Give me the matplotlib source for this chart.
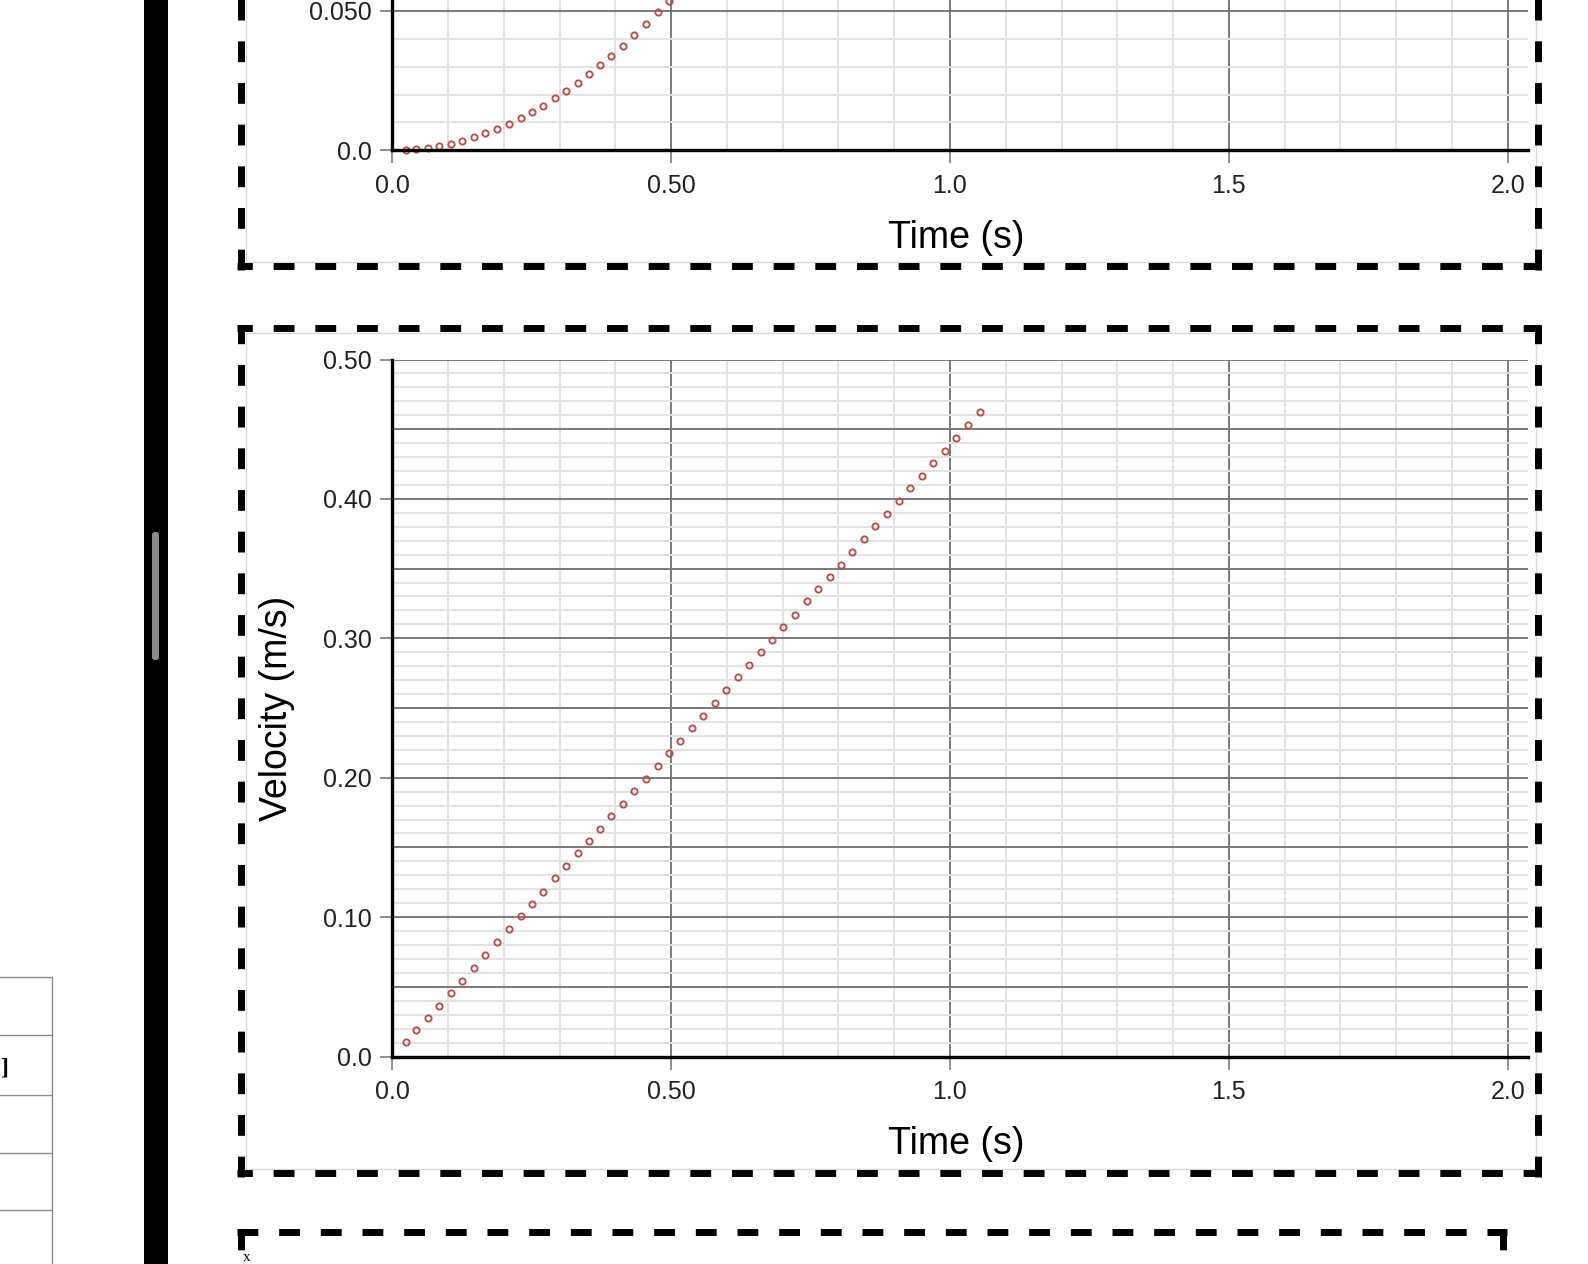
import matplotlib.pyplot as plt
import numpy as np
from matplotlib.lines import Line2D
from matplotlib.patches import Rectangle, FancyBboxPatch
from matplotlib.ticker import FixedLocator, FixedFormatter, MultipleLocator

# Values
time_s = [0.025, 0.043, 0.064, 0.084, 0.105, 0.125, 0.146, 0.167, 0.188, 0.209,
          0.230, 0.250, 0.270, 0.292, 0.312, 0.333, 0.353, 0.372, 0.392, 0.413,
          0.433, 0.455, 0.476, 0.496, 0.516, 0.537, 0.558, 0.579, 0.599, 0.620,
          0.640, 0.661, 0.681, 0.701, 0.722, 0.743, 0.764, 0.784, 0.805, 0.825,
          0.846, 0.866, 0.887, 0.908, 0.929, 0.949, 0.970, 0.991, 1.011, 1.032, 1.053]

velocity = [0.0102, 0.0188, 0.0279, 0.0365, 0.0458, 0.0545, 0.0638, 0.0731, 0.0823, 0.0914,
            0.1007, 0.1093, 0.1182, 0.1280, 0.1366, 0.1457, 0.1548, 0.1634, 0.1724, 0.1814,
            0.1902, 0.1994, 0.2085, 0.2175, 0.2264, 0.2355, 0.2446, 0.2537, 0.2628, 0.2719,
            0.2805, 0.2899, 0.2990, 0.3078, 0.3170, 0.3265, 0.3351, 0.3438, 0.3529, 0.3619,
            0.3711, 0.3804, 0.3890, 0.3984, 0.4075, 0.4165, 0.4256, 0.4343, 0.4434, 0.4527, 0.4621]

# only the part of the position chart that is visible
position = [0.0000, 0.0004, 0.0009, 0.0015, 0.0024, 0.0034, 0.0048, 0.0061, 0.0077, 0.0095,
            0.0116, 0.0136, 0.0159, 0.0187, 0.0213, 0.0242, 0.0273, 0.0305, 0.0339, 0.0375,
            0.0412, 0.0453, 0.0496, 0.0536]

x_ticks = [0.0, 0.5, 1.0, 1.5, 2.0]
x_tick_labels = ["0.0", "0.50", "1.0", "1.5", "2.0"]
pos_ticks = [0.0, 0.05]
pos_tick_labels = ["0.0", "0.050"]
vel_ticks = [0.0, 0.1, 0.2, 0.3, 0.4, 0.5]
vel_tick_labels = ["0.0", "0.10", "0.20", "0.30", "0.40", "0.50"]

plt.rcParams['font.family'] = ['Liberation Sans', 'DejaVu Sans']

W, H = 1588, 1264
DARK = '#707070'
LIGHT = '#e2e2e2'
DOT = '#b4514d'


def rect(x0, y0, x1, y1):
    # pixel box (top-left origin) -> figure fraction rect
    return [x0 / W, 1 - y1 / H, (x1 - x0) / W, (y1 - y0) / H]


fig = plt.figure(figsize=(W / 100, H / 100), dpi=100)


def setup(ax, y_max, y_ticks, y_labels, extra_dark):
    ax.set_xlim(0, 2.0364)
    ax.set_ylim(0, y_max)
    for s in ['top', 'right']:
        ax.spines[s].set_visible(False)
    for s in ['left', 'bottom']:
        ax.spines[s].set_linewidth(2.4)
        ax.spines[s].set_color('black')
        ax.spines[s].set_zorder(4)
    ax.xaxis.set_major_locator(FixedLocator(x_ticks))
    ax.xaxis.set_major_formatter(FixedFormatter(x_tick_labels))
    ax.xaxis.set_minor_locator(MultipleLocator(0.1))
    ax.yaxis.set_major_locator(FixedLocator(y_ticks))
    ax.yaxis.set_major_formatter(FixedFormatter(y_labels))
    ax.yaxis.set_minor_locator(MultipleLocator(0.01))
    ax.tick_params(which='major', length=9, width=1.1, color=DARK,
                   labelsize=18, labelcolor='#222222')
    ax.tick_params(axis='x', which='major', pad=8)
    ax.tick_params(axis='y', which='major', pad=6)
    ax.tick_params(which='minor', length=0)
    ax.set_axisbelow(True)
    ax.grid(which='minor', color=LIGHT, lw=1.4)
    ax.grid(which='major', color=DARK, lw=1.3)
    for yv in extra_dark:
        ax.axhline(yv, color=DARK, lw=1.3, zorder=1)
    ax.set_xlabel("Time (s)", fontsize=27, color='black')
    ax.xaxis.set_label_coords(0.4965, -88 / 697)
    ax.xaxis.label.set_verticalalignment('center')


# Position chart (top, mostly scrolled out of view)
ax1 = fig.add_axes(rect(392.3, -546.7, 1528, 150.3))
setup(ax1, 0.25, pos_ticks, pos_tick_labels, np.arange(0.10, 0.26, 0.05))
ax1.plot(time_s[:len(position)], position, 'o', ms=4.5, mfc='none', mec=DOT, mew=1.35,
         zorder=3, clip_on=False)

# Velocity chart
ax2 = fig.add_axes(rect(392.3, 359.5, 1528, 1056.5))
setup(ax2, 0.50, vel_ticks, vel_tick_labels, np.arange(0.05, 0.5, 0.1))
ax2.plot(time_s, velocity, 'o', ms=4.5, mfc='none', mec=DOT, mew=1.35, zorder=3)
ax2.set_ylabel("Velocity (m/s)", fontsize=27, color='black')
ax2.yaxis.set_label_coords(-115 / 1135.7, 0.5)
ax2.yaxis.label.set_verticalalignment('center')

# Page decoration: dashed panel borders
LW = 5.0
LW_PX = LW * 100 / 72


def dashed(x0, y0, x1, y1, offset=0.0):
    fig.add_artist(Line2D([x0 / W, x1 / W], [1 - y0 / H, 1 - y1 / H], color='black', lw=LW,
                          linestyle=(offset / LW_PX, (3, 3)), dash_capstyle='butt'))


def thin(x0, y0, x1, y1):
    fig.add_artist(Line2D([x0 / W, x1 / W], [1 - y0 / H, 1 - y1 / H],
                          color='#d9d9d9', lw=1.0))


# panel 1
thin(245.5, -10, 245.5, 261.5)
thin(245.5, 261.5, 1536, 261.5)
thin(1536, -10, 1536, 261.5)
dashed(237, 266, 1541, 266, 5.5)
dashed(241, 270, 241, -10)
dashed(1537.5, 270, 1537.5, -10)

# panel 2
thin(245.5, 332.5, 1536, 332.5)
thin(245.5, 332.5, 245.5, 1168.5)
thin(245.5, 1168.5, 1536, 1168.5)
thin(1536, 332.5, 1536, 1168.5)
dashed(237, 328, 1541, 328, 5.5)
dashed(237, 1173, 1541, 1173, 5.5)
dashed(241, 1176.5, 241, 324.5)
dashed(1537.5, 1176.5, 1537.5, 324.5)

# panel 3
dashed(237, 1232, 1507, 1232, 0.0)
dashed(241, 1228.5, 241, 1300)
dashed(1503, 1228.5, 1503, 1300)
fig.text(243 / W, 1 - 1261 / H, "x", fontsize=11, family='Liberation Serif',
         ha='left', va='baseline')

# dark side bar with scroll thumb
fig.add_artist(Rectangle((144 / W, 0), 24 / W, 1, transform=fig.transFigure,
                         color='black', lw=0))
fig.add_artist(FancyBboxPatch((152 / W, 1 - 660 / H), 7 / W, 128 / H,
                              boxstyle='round,pad=0,rounding_size=0.002',
                              transform=fig.transFigure, color='#8a8a8a', lw=0))

# table cells at the left edge
for yl in [977, 1035, 1095, 1153, 1210]:
    fig.add_artist(Line2D([0, 52.3 / W], [1 - yl / H, 1 - yl / H], color='#8c8c8c', lw=1.0))
fig.add_artist(Line2D([52.3 / W, 52.3 / W], [1 - 977 / H, 0], color='#8c8c8c', lw=1.0))
fig.text(7.5 / W, 1 - 1068 / H, "]", fontsize=17, family='Liberation Serif',
         weight='bold', ha='right', va='center')

plt.savefig("out.png", dpi=100)
